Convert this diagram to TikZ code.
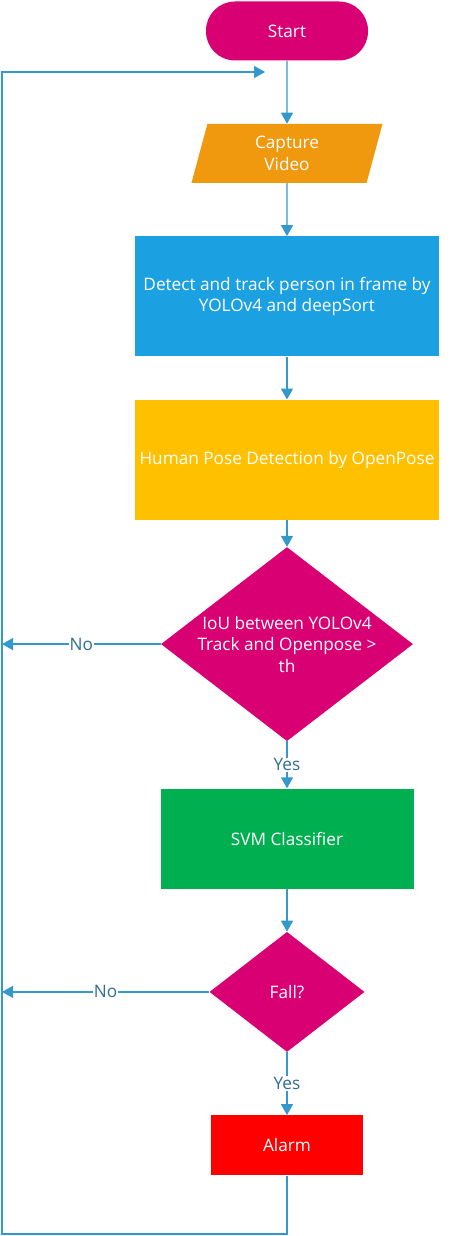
\documentclass[tikz,border=0pt]{standalone}
\usepackage{fontspec}
\setmainfont{Open Sans}
\usetikzlibrary{shapes.geometric, arrows.meta, positioning}
\definecolor{flowmagenta}{HTML}{D80073}
\definecolor{floworange}{HTML}{F0980E}
\definecolor{flowcyan}{HTML}{1BA1E2}
\definecolor{flowamber}{HTML}{FFC000}
\definecolor{flowgreen}{HTML}{00B050}
\definecolor{flowred}{HTML}{FF0000}
\definecolor{flowline}{HTML}{3399CC}
\definecolor{flowlabel}{HTML}{2F6F8F}
\tikzstyle{terminal} = [rectangle, rounded corners=29pt, minimum width=162pt, minimum height=59pt, fill=flowmagenta, text=white]
\tikzstyle{io} = [trapezium, trapezium left angle=65, trapezium right angle=115, trapezium stretches body, minimum width=191pt, minimum height=59pt, inner sep=0pt, fill=floworange, text=white, align=center]
\tikzstyle{process} = [rectangle, minimum width=304pt, minimum height=120pt, text=white, align=center]
\tikzstyle{decision} = [diamond, fill=flowmagenta, inner sep=0pt, text=white]
\tikzstyle{arrow} = [line width=1.4pt, draw=flowline, -{Triangle[width=12pt,length=11pt]}]
\tikzstyle{answer} = [fill=white, text=flowlabel, inner sep=1pt]
\begin{document}
\begin{tikzpicture}[x=1pt, y=-1pt, font=\fontsize{17.2}{21.5}\selectfont]
    \useasboundingbox (0,0) rectangle (474,1236);

    \node (start) [terminal] at (287,31) {Start};
    \node (capture) [io, below=63pt of start] {Capture\\Video};
    \node (detect) [process, fill=flowcyan, below=53pt of capture] {Detect and track person in frame by\\YOLOv4 and deepSort};
    \node (pose) [process, fill=flowamber, below=43pt of detect] {Human Pose Detection by OpenPose};
    \node (iou) [decision, minimum width=252pt, minimum height=194pt, below=27pt of pose,
        label={[text=white, align=center]center:IoU between YOLOv4\\Track and Openpose >\\th}] {};
    \node (svm) [process, fill=flowgreen, minimum width=253pt, minimum height=100pt, below=47pt of iou] {SVM Classifier};
    \node (fall) [decision, minimum width=155pt, minimum height=120pt, below=43pt of svm] {Fall?};
    \node (alarm) [process, fill=flowred, minimum width=152pt, minimum height=60pt, below=63pt of fall] {Alarm};

    % loop corners
    \coordinate (loopin) at (265,72);
    \coordinate (loopbl) at (2,1234);

    \draw [arrow] (start) -- (capture);
    \draw [arrow] (capture) -- (detect);
    \draw [arrow] (detect) -- (pose);
    \draw [arrow] (pose) -- (iou);
    \draw [arrow] (iou) -- node[answer] {Yes} (svm);
    \draw [arrow] (svm) -- (fall);
    \draw [arrow] (fall) -- node[answer] {Yes} (alarm);
    \draw [arrow] (iou.west) -- node[answer] {No} (iou.west -| loopbl);
    \draw [arrow] (fall.west) -- node[answer] {No} (fall.west -| loopbl);

    % back to the top
    \draw [arrow] (alarm.south) |- (loopbl) |- (loopin);

\end{tikzpicture}
\end{document}
